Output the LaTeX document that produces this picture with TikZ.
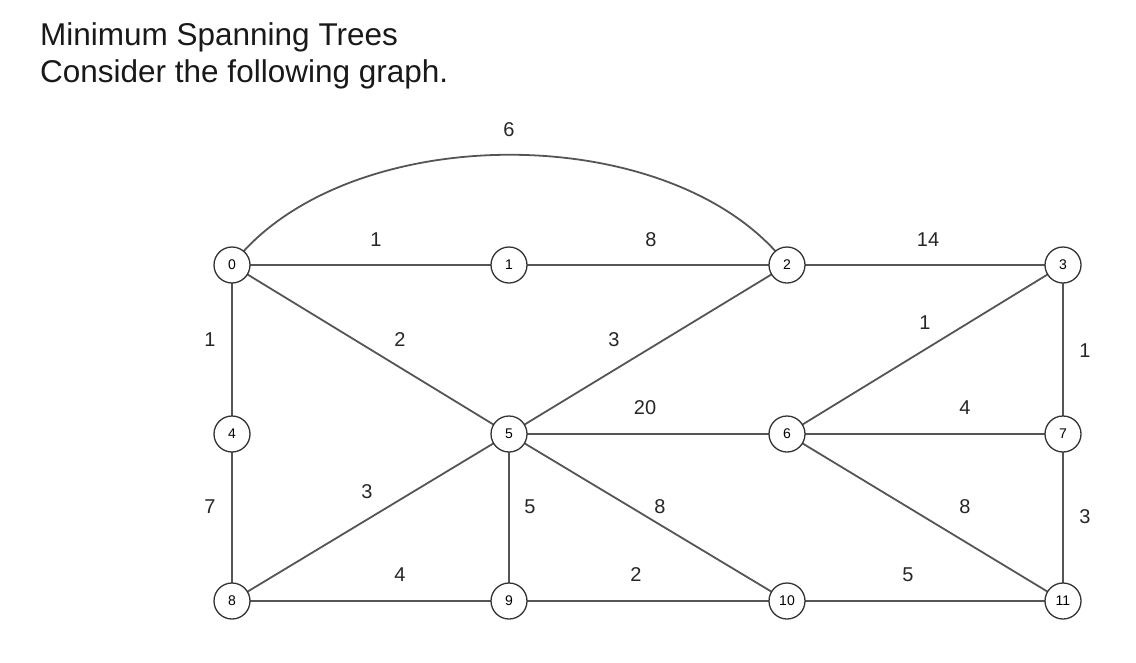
\documentclass[tikz,border=0pt]{standalone}
\usepackage{fontspec}
\setmainfont{Liberation Sans}
\definecolor{edge}{HTML}{555555}
\begin{document}
\begin{tikzpicture}[x=1pt,y=-1pt,
  vert/.style={circle,draw=black!80,line width=1.3pt,fill=white,minimum size=36pt,inner sep=0pt,font=\fontsize{14}{14}\selectfont},
  ed/.style={draw=edge,line width=1.8pt},
  wl/.style={font=\fontsize{20}{20}\selectfont,text=black!85}]
\useasboundingbox (0,0) rectangle (1136,662);
\node[anchor=west,inner sep=0pt,font=\fontsize{31.5}{31.5}\selectfont,text=black!90] (t1) at (40,37) {Minimum Spanning Trees};
\node[anchor=west,inner sep=0pt,font=\fontsize{31.5}{31.5}\selectfont,text=black!90] (t2) at (40,74) {Consider the following graph.};
\foreach \n/\x/\y in {0/232/265,1/509/265,2/787/265,3/1063/265,4/232/434,5/509/434,6/787/434,7/1063/434,8/232/601,9/509/601,10/787/601,11/1063/601}
  \coordinate (c\n) at (\x,\y);
\draw[ed] (c0) .. controls (345,118) and (675,118) .. (c2);
\foreach \a/\b in {0/1,1/2,2/3,0/4,0/5,2/5,3/6,3/7,5/6,6/7,4/8,5/8,5/9,5/10,6/11,7/11,8/9,9/10,10/11}
  \draw[ed] (c\a) -- (c\b);
\foreach \n in {0,...,11} \node[vert] (v\n) at (c\n) {\n};
\foreach \t/\x/\y [count=\i] in {6/509/130,1/376/240,8/651/240,14/928/240,1/210/340,2/400/340,3/614/340,1/925/323,1/1085/351,20/645/408,4/965/408,7/210/507,3/367/492,5/530/507,8/660/507,8/965/507,3/1085/517,4/400/575,2/636/575,5/908/575}
  \node[wl] (w\i) at (\x,\y) {\t};
\end{tikzpicture}
\end{document}
